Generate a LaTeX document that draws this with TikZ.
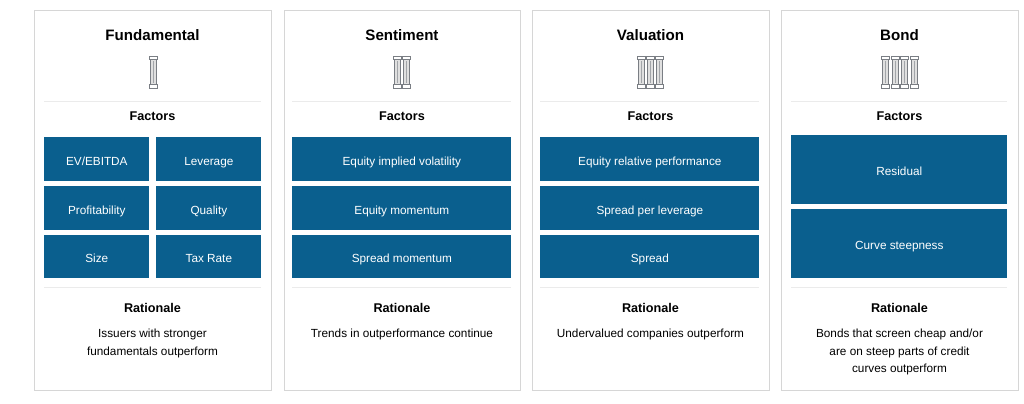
\documentclass[tikz,border=0pt]{standalone}
\usepackage{fontspec}
\setmainfont{Liberation Sans}
\usetikzlibrary{positioning}
\definecolor{factorblue}{HTML}{0A5F8E}
\definecolor{panelgray}{HTML}{D6D6D6}
\definecolor{pillargray}{HTML}{7A7E84}
\newcommand{\pillar}[1]{%
  \draw[pillargray,fill=white,line width=0.4pt] (#1-4,56) rectangle (#1+4,59.5);
  \draw[pillargray,fill=white,line width=0.4pt] (#1-4,84.5) rectangle (#1+4,88);
  \draw[pillargray,fill=black!12,line width=0.4pt] (#1-3,59.5) rectangle (#1+3,84.5);
  \draw[pillargray!70,line width=0.3pt] (#1,61) -- (#1,83);}
\begin{document}
\begin{tikzpicture}[x=0.02cm,y=-0.02cm,
    panel/.style={draw=panelgray,line width=0.5pt},
    sep/.style={draw=black!8,line width=0.5pt},
    title/.style={font=\fontsize{8.6}{10}\selectfont\bfseries},
    head/.style={font=\fontsize{7.2}{9}\selectfont\bfseries},
    note/.style={font=\fontsize{6.7}{10}\selectfont,align=center},
    factor/.style={fill=factorblue,text=white,inner sep=0pt,
        text height=1.7ex,text depth=0.45ex,
        font=\fontsize{6.7}{8}\selectfont,anchor=north west}]
\useasboundingbox (0,0) rectangle (1024,403);
% panels
\draw[panel] (34,10) rectangle (271,390);
\draw[panel] (284,10) rectangle (520,390);
\draw[panel] (532,10) rectangle (769,390);
\draw[panel] (781,10) rectangle (1018,390);
\foreach \xa/\xb in {44/261,292/511,540/759,791/1007}{
  \draw[sep] (\xa,101) -- (\xb,101);
  \draw[sep] (\xa,287) -- (\xb,287);}
% titles
\node[title] (fund) at (152.5,35) {Fundamental};
\node[title] (sent) at (402,35) {Sentiment};
\node[title] (valu) at (650.5,35) {Valuation};
\node[title] (bond) at (899.5,35) {Bond};
\pillar{153}
\pillar{397}\pillar{406}
\pillar{641}\pillar{650}\pillar{659}
\pillar{885}\pillar{895}\pillar{904}\pillar{914}
\foreach \x/\n in {152.5/a,402/b,650.5/c,899.5/d}{
  \node[head] (fac\n) at (\x,116) {Factors};
  \node[head] (rat\n) at (\x,308) {Rationale};}
% fundamental factors
\node[factor,minimum width=2.1cm,minimum height=0.88cm] (ev) at (44,137) {EV/EBITDA};
\node[factor,minimum width=2.1cm,minimum height=0.88cm] (lev) at (156,137) {Leverage};
\node[factor,minimum width=2.1cm,minimum height=0.88cm] (prof) at (44,186) {Profitability};
\node[factor,minimum width=2.1cm,minimum height=0.88cm] (qual) at (156,186) {Quality};
\node[factor,minimum width=2.1cm,minimum height=0.86cm] (size) at (44,235) {Size};
\node[factor,minimum width=2.1cm,minimum height=0.86cm] (tax) at (156,235) {Tax Rate};
% sentiment factors
\node[factor,minimum width=4.38cm,minimum height=0.88cm] (eiv) at (292,137) {Equity implied volatility};
\node[factor,minimum width=4.38cm,minimum height=0.88cm] (emom) at (292,186) {Equity momentum};
\node[factor,minimum width=4.38cm,minimum height=0.86cm] (smom) at (292,235) {Spread momentum};
% valuation factors
\node[factor,minimum width=4.38cm,minimum height=0.88cm] (erp) at (540,137) {Equity relative performance};
\node[factor,minimum width=4.38cm,minimum height=0.88cm] (spl) at (540,186) {Spread per leverage};
\node[factor,minimum width=4.38cm,minimum height=0.86cm] (spr) at (540,235) {Spread};
% bond factors
\node[factor,minimum width=4.32cm,minimum height=1.38cm] (res) at (791,135) {Residual};
\node[factor,minimum width=4.32cm,minimum height=1.38cm] (crv) at (791,209) {Curve steepness};
% rationale
\node[note,anchor=north] at (152.5,323) {Issuers with stronger\\fundamentals outperform};
\node[note,anchor=north] at (402,323) {Trends in outperformance continue};
\node[note,anchor=north] at (650.5,323) {Undervalued companies outperform};
\node[note,anchor=north] at (899.5,323) {Bonds that screen cheap and/or\\are on steep parts of credit\\curves outperform};
\end{tikzpicture}
\end{document}
